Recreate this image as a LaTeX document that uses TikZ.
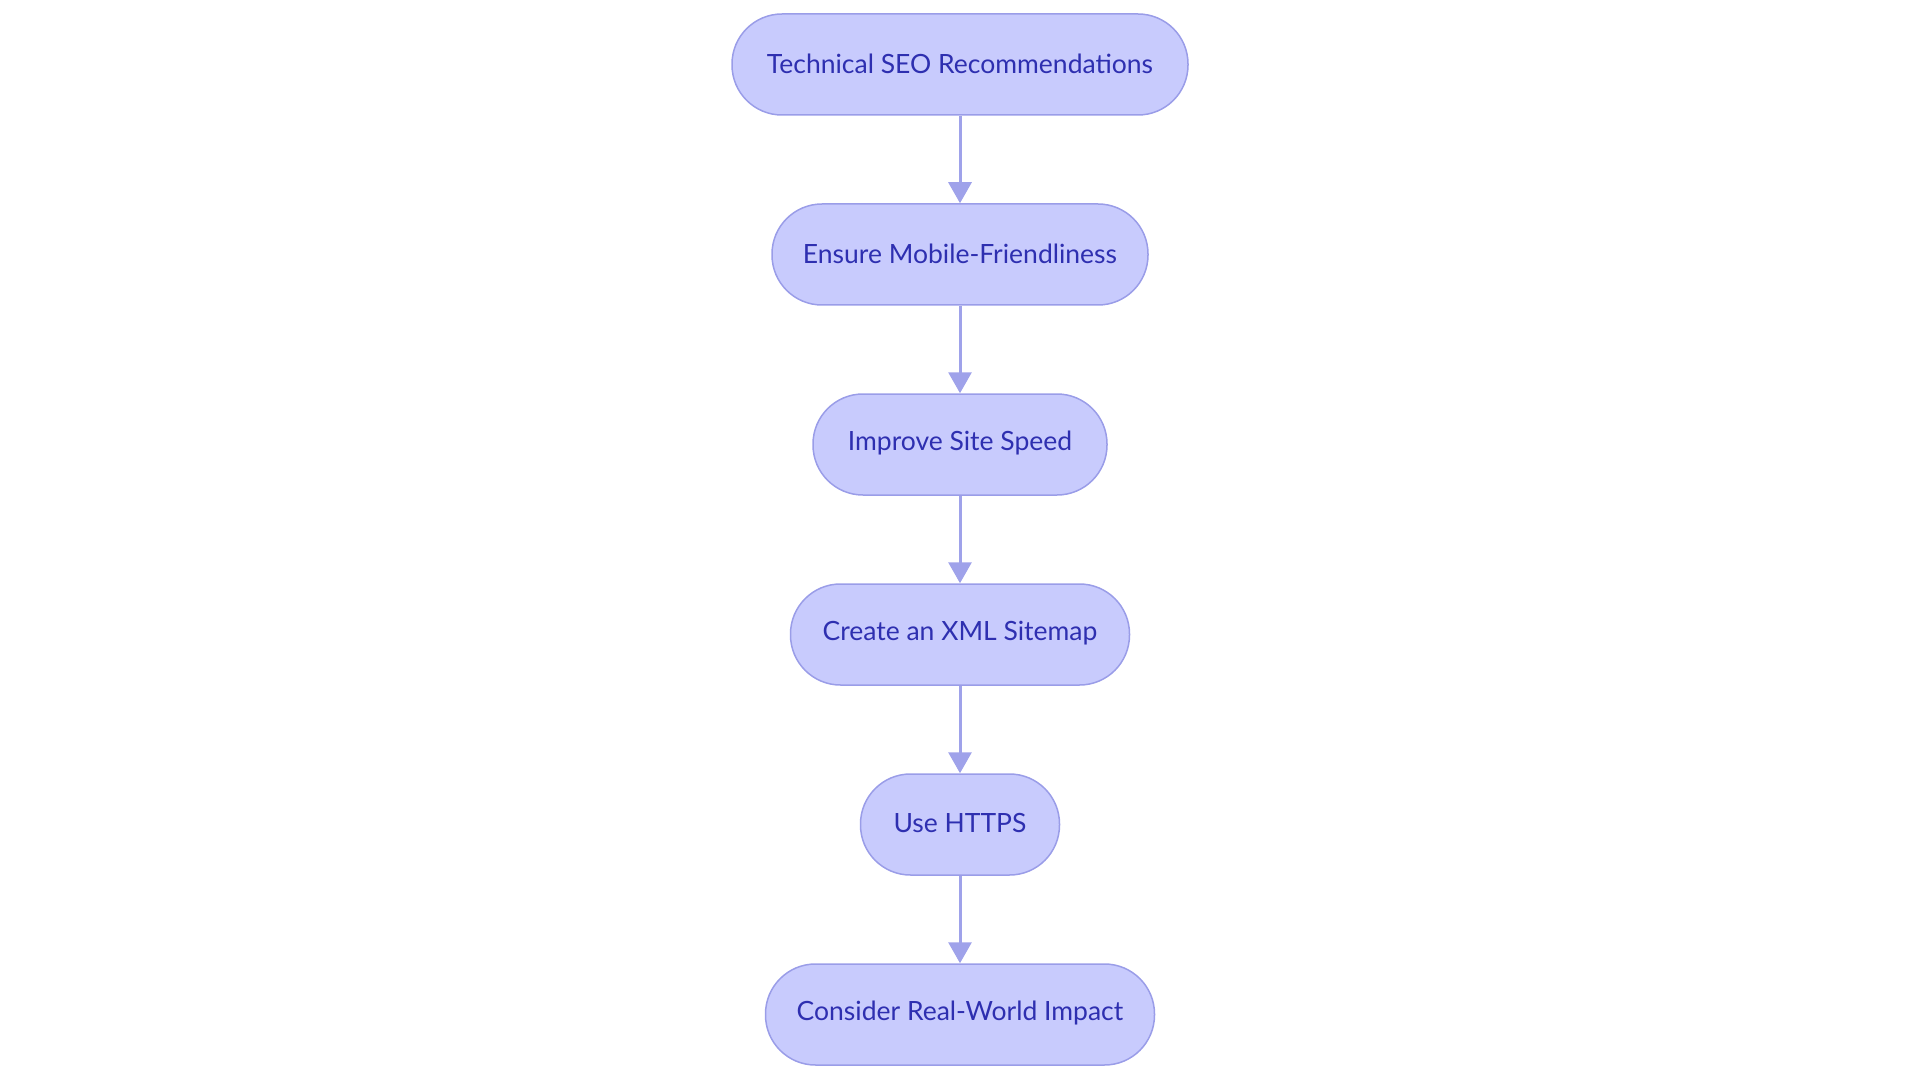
\documentclass[tikz,border=0pt]{standalone}
\usepackage{fontspec}
\setmainfont{Lato}
\usetikzlibrary{arrows.meta}
\definecolor{nodefill}{HTML}{C8CBFD}
\definecolor{nodeline}{HTML}{9A9DE8}
\definecolor{arrowcol}{HTML}{9FA2EA}
\definecolor{txtcol}{HTML}{2E2FB0}
\begin{document}
\begin{tikzpicture}[x=1pt,y=-1pt,
  box/.style={draw=nodeline,line width=1.5pt,fill=nodefill,rounded corners=50pt,
    minimum height=101pt,inner sep=0pt,text=txtcol,font=\fontsize{26.5}{30}\selectfont},
  lbl/.style={text=txtcol,font=\fontsize{26.5}{30}\selectfont,inner sep=0pt},
  conn/.style={draw=arrowcol,line width=3pt,-{Triangle[length=21pt,width=23pt]}}]
\useasboundingbox (0,0) rectangle (1920,1083);
\node[box,minimum width=456pt] (n1) at (960,64.5) {};
\node[box,minimum width=376pt] (n2) at (960,254.5) {};
\node[box,minimum width=294pt] (n3) at (960,444.5) {};
\node[box,minimum width=339pt] (n4) at (960,634.5) {};
\node[box,minimum width=199pt] (n5) at (960,824.5) {};
\node[box,minimum width=389pt] (n6) at (960,1014.5) {};
\node[lbl] (t1) at ([yshift=1pt]n1.center) {Technical SEO Recommendations};
\node[lbl] (t2) at ([yshift=1pt]n2.center) {Ensure Mobile-Friendliness};
\node[lbl] (t3) at ([yshift=1pt]n3.center) {Improve Site Speed};
\node[lbl] (t4) at ([yshift=1pt]n4.center) {Create an XML Sitemap};
\node[lbl] (t5) at ([yshift=1pt]n5.center) {Use HTTPS};
\node[lbl] (t6) at ([yshift=1pt]n6.center) {Consider Real-World Impact};
\draw[conn] (n1) -- (n2);
\draw[conn] (n2) -- (n3);
\draw[conn] (n3) -- (n4);
\draw[conn] (n4) -- (n5);
\draw[conn] (n5) -- (n6);
\end{tikzpicture}
\end{document}
